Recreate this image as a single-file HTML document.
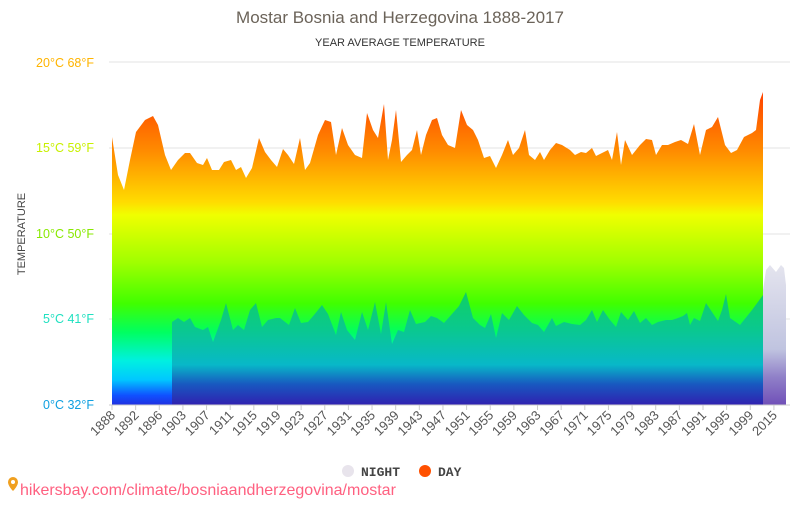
<!DOCTYPE html>
<html><head><meta charset="utf-8"><style>
body{margin:0;background:#fff;width:800px;height:500px;overflow:hidden;font-family:"Liberation Sans",sans-serif}
</style></head><body>
<svg width="800" height="500" xmlns="http://www.w3.org/2000/svg" font-family="Liberation Sans, sans-serif">
<defs>
<linearGradient id="day" gradientUnits="userSpaceOnUse" x1="0" y1="88" x2="0" y2="405">
<stop offset="0" stop-color="#ff3c00"/>
<stop offset="0.2" stop-color="#ff8c00"/>
<stop offset="0.36" stop-color="#ffdc00"/>
<stop offset="0.4" stop-color="#f0ff00"/>
<stop offset="0.55" stop-color="#a0ff00"/>
<stop offset="0.68" stop-color="#40ff00"/>
<stop offset="0.77" stop-color="#00ff60"/>
<stop offset="0.86" stop-color="#00f0e0"/>
<stop offset="0.92" stop-color="#00c8ff"/>
<stop offset="0.97" stop-color="#1050ff"/>
<stop offset="1" stop-color="#2030e0"/>
</linearGradient>
<linearGradient id="night" gradientUnits="userSpaceOnUse" x1="0" y1="290" x2="0" y2="405">
<stop offset="0" stop-color="#10d060"/>
<stop offset="0.35" stop-color="#0ac890"/>
<stop offset="0.65" stop-color="#08b8c8"/>
<stop offset="0.82" stop-color="#1858c0"/>
<stop offset="1" stop-color="#3020b0"/>
</linearGradient>
<linearGradient id="lav" gradientUnits="userSpaceOnUse" x1="0" y1="265" x2="0" y2="405">
<stop offset="0" stop-color="#e4e4ee"/>
<stop offset="0.6" stop-color="#c0c4e0"/>
<stop offset="0.8" stop-color="#9080c8"/>
<stop offset="1" stop-color="#7050b8"/>
</linearGradient>
</defs>
<text x="400" y="23" text-anchor="middle" font-size="17" fill="#6b6359">Mostar Bosnia and Herzegovina 1888-2017</text>
<text x="400" y="46" text-anchor="middle" font-size="11" fill="#333">YEAR AVERAGE TEMPERATURE</text>
<g stroke="#e3e3e3" stroke-width="1">
<line x1="109" y1="62" x2="790" y2="62"/><line x1="109" y1="148" x2="790" y2="148"/>
<line x1="109" y1="234" x2="790" y2="234"/><line x1="109" y1="319" x2="790" y2="319"/>
</g>
<g font-size="12.5" text-anchor="end">
<text x="94" y="67" fill="#ffb400">20°C 68°F</text>
<text x="94" y="152" fill="#c8f000">15°C 59°F</text>
<text x="94" y="238" fill="#88e800">10°C 50°F</text>
<text x="94" y="323" fill="#20e0c0">5°C 41°F</text>
<text x="94" y="409" fill="#10a0e0">0°C 32°F</text>
</g>
<text transform="translate(25,234) rotate(-90)" text-anchor="middle" font-size="11" fill="#444">TEMPERATURE</text>
<polygon fill="url(#day)" points="112,405 112,137 118,175 124,190 130,160 136,132 145,120 153,116 158,125 165,155 171,170 178,160 185,153 190,153 197,163 203,165 207,158 212,170 219,170 224,162 231,160 236,170 241,167 246,178 252,168 259,138 265,152 271,160 277,167 283,149 288,155 294,164 300,138 305,170 310,163 318,135 325,120 331,122 336,155 342,128 348,145 355,155 362,158 367,113 373,130 378,138 384,104 388,160 392,140 396,110 401,162 407,155 412,150 417,130 421,155 426,135 432,120 437,118 442,135 448,145 455,148 461,110 467,125 473,130 478,140 484,158 490,156 496,168 502,155 508,140 513,155 519,148 525,130 529,155 535,160 540,152 544,160 550,150 556,143 562,145 570,150 575,155 581,152 586,153 592,148 596,156 602,153 608,150 612,160 617,132 621,165 625,140 632,155 640,145 646,139 652,140 656,155 662,145 668,145 675,142 681,140 688,144 694,124 700,155 706,130 712,127 718,117 725,145 731,153 737,150 744,137 752,133 756,130 760,100 763,92 763,405"/>
<polygon fill="url(#night)" points="172,405 172,322 178,318 184,322 190,318 195,327 203,330 208,327 213,342 221,320 226,303 233,330 238,325 244,330 250,310 256,303 262,327 268,320 276,318 280,318 289,325 295,308 301,323 308,322 314,315 322,305 328,314 336,335 341,312 347,330 355,340 362,312 368,330 375,302 381,334 386,302 392,344 398,330 404,332 410,310 416,324 425,322 431,316 437,318 444,323 459,306 466,292 473,318 480,325 485,328 491,314 496,338 502,313 509,320 517,306 524,315 532,323 538,325 544,332 552,318 556,326 564,322 572,324 580,325 586,320 592,310 597,322 603,310 610,320 616,327 621,312 628,320 634,311 640,323 646,318 652,325 658,322 666,320 672,320 678,318 683,316 687,313 690,325 694,318 700,321 706,303 712,312 718,321 722,310 726,294 730,318 740,325 752,310 763,295 763,405"/>
<polygon fill="url(#lav)" points="763,405 763,290 766,270 770,265 776,272 781,265 784,268 786,285 786,405"/>
<line x1="109" y1="405" x2="790" y2="405" stroke="#ccc"/>
<g id="ticks" font-size="13" fill="#555"></g>
<circle cx="348" cy="471" r="6" fill="#e8e4ec"/>
<text x="361" y="476" font-size="13" font-weight="bold" fill="#444" font-family="Liberation Mono, monospace">NIGHT</text>
<circle cx="425" cy="471" r="6" fill="#ff5000"/>
<text x="438" y="476" font-size="13" font-weight="bold" fill="#444" font-family="Liberation Mono, monospace">DAY</text>
<path d="M8 482 a5 5 0 0 1 10 0 c0 4 -5 9 -5 9 c0 0 -5 -5 -5 -9z" fill="#f0a020"/>
<circle cx="13" cy="482" r="2" fill="#fff"/>
<text x="20" y="495" font-size="16" fill="#ff6080">hikersbay.com/climate/bosniaandherzegovina/mostar</text>
</svg>
<script>
var labels=["1888","1892","1896"];for(var y=1903;y<=1999;y+=4)labels.push(""+y);labels.push("2015");
var g=document.getElementById("ticks"),ns="http://www.w3.org/2000/svg";
labels.forEach(function(l,i){var x=112+i*23.64;
var ln=document.createElementNS(ns,"line");ln.setAttribute("x1",x);ln.setAttribute("x2",x);ln.setAttribute("y1",405);ln.setAttribute("y2",410);ln.setAttribute("stroke","#ccc");g.appendChild(ln);
var t=document.createElementNS(ns,"text");t.setAttribute("text-anchor","end");t.setAttribute("transform","translate("+(x+4)+",416) rotate(-45)");t.textContent=l;g.appendChild(t);});
</script>
</body></html>
